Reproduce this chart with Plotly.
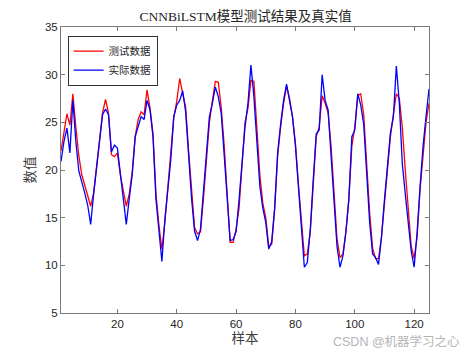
import plotly.graph_objects as go

samples = list(range(1, 126))

test_data = [
    22.0, 24.0, 25.9, 24.7, 28.0, 24.5, 21.5, 19.5, 18.3, 17.2,
    16.2, 17.6, 20.5, 23.5, 26.0, 27.4, 26.0, 21.6, 21.4, 21.8,
    19.5, 17.8, 16.2, 17.5, 19.8, 23.5, 25.3, 26.1, 25.8, 28.4,
    26.5, 23.8, 17.5, 14.2, 11.7, 14.5, 18.2, 21.5, 25.5, 27.2,
    29.6, 28.0, 26.6, 22.0, 17.5, 14.0, 13.3, 13.5, 17.0, 21.0,
    25.0, 27.2, 29.3, 29.2, 26.5, 22.5, 17.5, 12.4, 12.4, 13.8,
    16.0, 20.5, 25.0, 26.5, 29.4, 29.3, 24.0, 19.5, 16.5, 15.0,
    12.0, 12.2, 16.0, 21.5, 24.5, 27.0, 28.8, 27.5, 25.6, 22.8,
    18.5, 14.8, 11.0, 11.2, 13.5, 18.5, 23.5, 24.5, 27.8, 27.0,
    26.0, 22.5, 17.5, 12.8, 10.8, 11.2, 13.5, 17.0, 22.5, 24.5,
    27.8, 28.0, 25.8, 20.5, 15.5, 11.8, 10.7, 10.7, 13.0, 16.5,
    20.0, 23.5, 25.8, 28.0, 27.5, 24.5, 20.0, 16.0, 12.0, 10.7,
    13.0, 18.0, 21.5, 25.0, 27.0,
]

actual_data = [
    20.9, 23.0, 24.4, 21.8, 27.3, 23.0, 19.9, 18.8, 17.6, 16.3,
    14.3, 17.5, 20.5, 23.2, 25.8, 26.4, 25.8, 21.9, 22.6, 22.3,
    19.7, 17.0, 14.3, 17.0, 19.5, 23.5, 24.7, 25.6, 25.3, 27.3,
    26.3, 23.5, 16.9, 13.5, 10.4, 14.8, 18.0, 21.1, 25.6, 26.8,
    27.3, 28.3, 26.1, 21.5, 17.0, 13.6, 12.6, 13.8, 17.6, 21.5,
    25.6, 27.0, 28.7, 27.7, 25.9, 21.5, 16.5, 12.6, 12.7, 13.5,
    16.9, 21.0, 24.5, 27.0, 31.0, 27.7, 22.5, 18.3, 16.0, 14.5,
    11.7, 12.5, 16.0, 21.8, 24.8, 27.3, 29.0, 27.2, 25.6, 22.5,
    18.0, 14.1, 9.8, 10.3, 13.8, 19.0, 23.8, 24.2, 30.0, 27.3,
    26.3, 21.5, 16.9, 12.0, 9.8, 11.0, 13.5, 16.9, 23.5, 24.2,
    28.0, 26.8, 24.8, 19.0, 14.5, 11.2, 10.8, 10.1, 13.0, 16.9,
    20.5, 23.9, 25.6, 30.9, 27.0, 20.7, 17.5, 14.8, 11.5, 9.8,
    13.5, 18.3, 22.5, 25.6, 28.5,
]

y_ticks = [5, 10, 15, 20, 25, 30, 35]
x_ticks = [20, 40, 60, 80, 100, 120]

cjk_serif = "Liberation Serif, 'Noto Sans CJK SC', serif"
cjk_sans = "'Liberation Sans', Arial, 'Noto Sans CJK SC', sans-serif"

fig = go.Figure()
fig.add_trace(go.Scatter(x=samples, y=test_data, mode="lines", name="测试数据",
                         line=dict(color="#ff0000", width=1.3)))
fig.add_trace(go.Scatter(x=samples, y=actual_data, mode="lines", name="实际数据",
                         line=dict(color="#0000ff", width=1.3)))

axis_common = dict(
    showline=True, linecolor="#7a7a7a", linewidth=1, mirror="allticks",
    ticks="inside", ticklen=4, tickcolor="#7a7a7a",
    showgrid=False, zeroline=False,
    tickfont=dict(family=cjk_sans, size=11.5, color="#262626"),
)

fig.update_layout(
    width=466, height=347,
    margin=dict(l=53, r=45, t=19, b=40),
    paper_bgcolor="white", plot_bgcolor="white",
    title=dict(text="CNNBiLSTM模型测试结果及真实值", x=0.51, xanchor="center",
               y=0.977, yanchor="middle",
               font=dict(family=cjk_serif, size=13.5, color="#262626")),
    xaxis=dict(range=[1, 125], tickvals=x_ticks,
               title=dict(text="样本", standoff=4,
                          font=dict(family=cjk_serif, size=13.5, color="#404040")),
               **axis_common),
    yaxis=dict(range=[5, 35], tickvals=y_ticks,
               title=dict(text="数值", standoff=6,
                          font=dict(family=cjk_serif, size=13.5, color="#404040")),
               **axis_common),
    legend=dict(x=0.018, y=0.97, xanchor="left", yanchor="top",
                bgcolor="white", bordercolor="#333333", borderwidth=1,
                font=dict(family=cjk_serif, size=10.5, color="#262626"),
                itemwidth=30, tracegroupgap=0),
    showlegend=True,
    annotations=[dict(text="CSDN @机器学习之心", xref="paper", yref="paper",
                      x=1.09, y=-0.1, xanchor="right", yanchor="middle",
                      showarrow=False,
                      font=dict(family=cjk_sans, size=12.5, color="#b5b5b5"))],
)

fig.write_html("out.html")
